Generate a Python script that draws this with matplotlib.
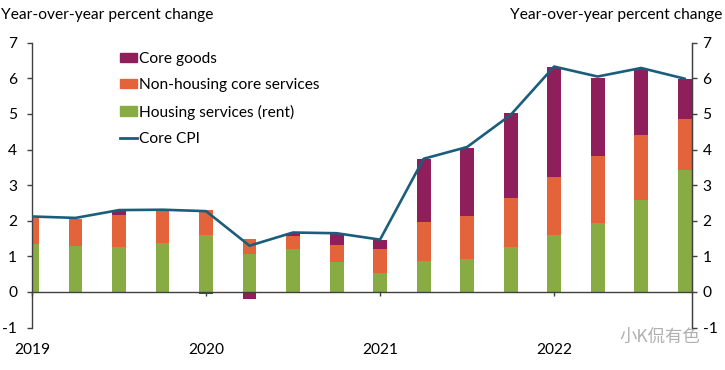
import numpy as np
import matplotlib
matplotlib.use("Agg")
import matplotlib.pyplot as plt
from matplotlib.patches import Patch
from matplotlib.lines import Line2D

plt.rcParams["font.family"] = ["Lato", "Noto Sans CJK SC", "DejaVu Sans"]
plt.rcParams["axes.unicode_minus"] = False

# quarterly data, 2019Q1 .. 2022Q4
quarters = ["2019Q1", "2019Q2", "2019Q3", "2019Q4",
            "2020Q1", "2020Q2", "2020Q3", "2020Q4",
            "2021Q1", "2021Q2", "2021Q3", "2021Q4",
            "2022Q1", "2022Q2", "2022Q3", "2022Q4"]
housing = [1.36, 1.29, 1.25, 1.38, 1.61, 1.08, 1.22, 0.83,
           0.54, 0.88, 0.94, 1.25, 1.59, 1.95, 2.58, 3.43]
non_housing = [0.71, 0.77, 0.91, 0.90, 0.70, 0.42, 0.36, 0.50,
               0.66, 1.08, 1.18, 1.39, 1.63, 1.88, 1.82, 1.44]
core_goods = [0.02, 0.00, 0.12, 0.00, -0.05, -0.21, 0.07, 0.29,
              0.26, 1.77, 1.93, 2.38, 3.09, 2.19, 1.86, 1.12]
core_cpi = [2.12, 2.08, 2.30, 2.31, 2.27, 1.30, 1.67, 1.65,
            1.47, 3.74, 4.07, 4.97, 6.33, 6.05, 6.29, 5.99]
year_labels = ["2019", "2020", "2021", "2022"]

c_goods = "#8e1f5a"
c_serv = "#e3643b"
c_house = "#88ab44"
c_line = "#1b5e7b"
c_axis = "#404040"

x = np.arange(len(quarters))
h = np.array(housing)
s = np.array(non_housing)
g = np.array(core_goods)
g_bottom = np.where(g >= 0, h + s, 0)

fig = plt.figure(figsize=(7.25, 3.7), dpi=100)
ax = fig.add_axes([32 / 725, 1 - 327.6 / 370, 660 / 725, 284.9 / 370])

w = 0.32
ax.bar(x, h, width=w, color=c_house, zorder=2)
ax.bar(x, s, width=w, bottom=h, color=c_serv, zorder=2)
ax.bar(x, g, width=w, bottom=g_bottom, color=c_goods, zorder=2)
ax.plot(x, core_cpi, color=c_line, lw=1.9, zorder=3, solid_joinstyle="round")

ax.set_xlim(0, 15.17)
ax.set_ylim(-1, 7)
ax.set_yticks(range(-1, 8))

ax.spines["top"].set_visible(False)
ax.spines["bottom"].set_position(("data", 0))
for side in ["left", "right", "bottom"]:
    ax.spines[side].set_color(c_axis)
    ax.spines[side].set_linewidth(1)
ax.spines["bottom"].set_zorder(4)

ax.set_xticks([0, 4, 8, 12])
ax.set_xticklabels(year_labels)
ax.tick_params(axis="x", direction="out", length=3, width=1, color=c_axis,
               pad=34, labelsize=11.2)
ax.tick_params(axis="y", direction="out", length=3.6, width=1, color=c_axis,
               pad=7, labelsize=11.2)

ax2 = ax.twinx()
ax2.set_ylim(-1, 7)
ax2.set_yticks(range(-1, 8))
for side in ["top", "bottom", "left"]:
    ax2.spines[side].set_visible(False)
ax2.spines["right"].set_color(c_axis)
ax2.tick_params(axis="y", direction="out", length=3.6, width=1, color=c_axis,
                pad=4, labelsize=11.2)

fig.text(0.002, 1 - 15 / 370, "Year-over-year percent change", fontsize=11.2,
         ha="left", va="center")
fig.text(0.996, 1 - 15 / 370, "Year-over-year percent change", fontsize=11.2,
         ha="right", va="center")

handles = [Patch(color=c_goods), Patch(color=c_serv), Patch(color=c_house),
           Line2D([], [], color=c_line, lw=2)]
labels = ["Core goods", "Non-housing core services",
          "Housing services (rent)", "Core CPI"]
ax.legend(handles, labels, loc="upper left",
          bbox_to_anchor=(120 / 725, 1 - 52 / 370),
          bbox_transform=fig.transFigure, frameon=False, fontsize=11.2,
          handlelength=1.1, handleheight=0.55, handletextpad=0.15,
          labelspacing=0.79, borderpad=0, borderaxespad=0)

# watermark
fig.text(0.966, 1 - 337 / 370, "小K侃有色", fontsize=12.5, color="#b0b0b0",
         ha="right", va="center", family=["Noto Sans CJK SC", "DejaVu Sans"])

fig.savefig("out.png", dpi=100)
